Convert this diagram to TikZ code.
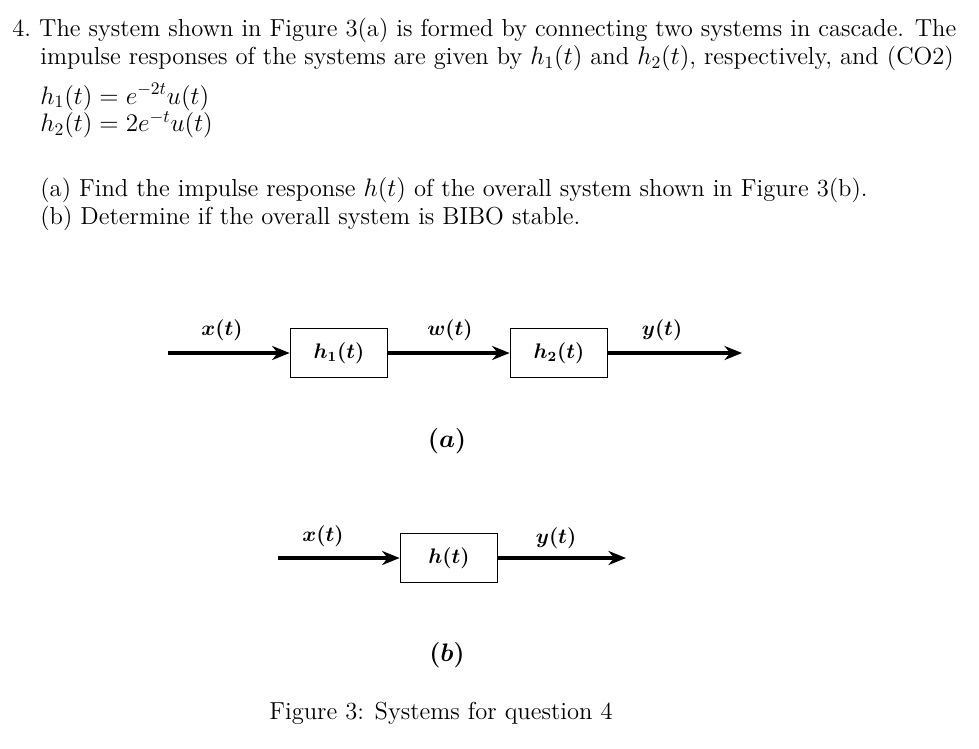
\documentclass[tikz,border=0pt]{standalone}
\usepackage{amsmath}
\usetikzlibrary{positioning,arrows.meta}
\begin{document}
\begin{tikzpicture}[x=0.02cm,y=-0.02cm]
    % set the styles of the blocks and wires
    \tikzset{
        txt/.style={anchor=west,inner sep=0pt,font=\fontsize{14}{16}\selectfont},
        block/.style={draw,line width=1pt,minimum width=1.94cm,minimum height=0.98cm,font=\large\boldmath},
        sig/.style={-{Stealth[length=10pt,width=8pt]},line width=2.2pt},
        lab/.style={font=\large\boldmath}
    }
    \useasboundingbox (0,0) rectangle (979,748);

    % question text
    \node[txt] (l1) at (12,30) {4.\ The system shown in Figure 3(a) is formed by connecting two systems in cascade. The};
    \node[txt] (l2) at (40,58) {impulse responses of the systems are given by $h_1(t)$ and $h_2(t)$, respectively, and (CO2)};
    \node[txt] (l3) at (40,97) {$h_1(t)=e^{-2t}u(t)$};
    \node[txt] (l4) at (40,125) {$h_2(t)=2e^{-t}u(t)$};
    \node[txt] (l5) at (40,190) {(a) Find the impulse response $h(t)$ of the overall system shown in Figure 3(b).};
    \node[txt] (l6) at (40,218) {(b) Determine if the overall system is BIBO stable.};

    % figure (a)
    \coordinate (ain) at (168,353);
    \node[block] (h1) at (339,353) {$h_1(t)$};
    \node[block] (h2) at (559,353) {$h_2(t)$};
    \coordinate (aout) at (742,353);
    \draw[sig] (ain) -- (h1);
    \draw[sig] (h1) -- (h2);
    \draw[sig] (h2) -- (aout);
    \node[lab] (xa) at (222,330) {$x(t)$};
    \node[lab] (wa) at (450,330) {$w(t)$};
    \node[lab] (ya) at (662,330) {$y(t)$};
    \node[font=\Large\boldmath] (capa) at (447,441) {$(a)$};

    % figure (b)
    \coordinate (bin) at (278,558);
    \node[block] (h) at (449,558) {$h(t)$};
    \coordinate (bout) at (626,558);
    \draw[sig] (bin) -- (h);
    \draw[sig] (h) -- (bout);
    \node[lab] (xb) at (323,536) {$x(t)$};
    \node[lab] (yb) at (556,538) {$y(t)$};
    \node[font=\Large\boldmath] (capb) at (447,655) {$(b)$};

    \node[font=\fontsize{14}{16}\selectfont] (cap) at (441,713) {Figure 3: Systems for question 4};
\end{tikzpicture}
\end{document}
